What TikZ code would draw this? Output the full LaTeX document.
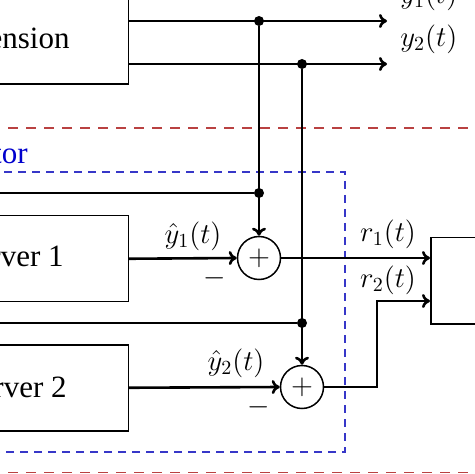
\documentclass[tikz,border=0pt]{standalone}
\usepackage{amsmath}
\usepackage{fontspec}
\setmainfont{Liberation Serif}
\usepackage{tikz}
\usetikzlibrary{positioning,shapes,arrows.meta}
\definecolor{frameRed}{RGB}{185,65,65}
\definecolor{frameBlue}{RGB}{55,55,200}
\definecolor{textBlue}{RGB}{0,0,205}

\tikzset{
  block/.style={draw, line width=0.75pt, inner sep=0pt, minimum width=110pt, minimum height=43pt},
  sumnode/.style={draw, circle, line width=0.75pt, minimum size=21.5pt, inner sep=0pt, font=\fontsize{14}{16}\selectfont},
  sig/.style={line width=1.3pt, -{To[length=4pt,width=7pt]}},
  wire/.style={line width=1.3pt},
  junc/.style={circle, fill, inner sep=0pt, minimum size=5pt},
  lbl/.style={inner sep=0pt, font=\fontsize{14.5}{17}\selectfont},
  txt/.style={inner sep=0pt, font=\fontsize{15.5}{18}\selectfont},
  frame/.style={line width=0.7pt},
}

\begin{document}
\begin{tikzpicture}[x=0.5pt,y=-0.5pt]
    \useasboundingbox (0,0) rectangle (474,474);
    % frames
    \draw[frame, frameRed, dash pattern=on 5pt off 4pt] (-10,128) -- (484,128);
    \draw[frame, frameRed, dash pattern=on 5pt off 4pt] (-10,472.5) -- (484,472.5);
    \draw[frame, frameBlue, dash pattern=on 4pt off 3pt] (-10,172) -- (345,172) -- (345,452) -- (-10,452);
    \node[txt, textBlue, anchor=base east] (gentxt) at (28,164) {tor};
    % blocks
    \node[block, anchor=south east] (ext) at (129,85) {};
    \node[txt, anchor=base east] (exttxt) at (70,49) {ension};
    \node[block, anchor=north east] (obs1) at (129,215) {};
    \node[txt, anchor=base east] (obs1txt) at (64,267) {rver 1};
    \node[block, anchor=north east] (obs2) at (129,344) {};
    \node[txt, anchor=base east] (obs2txt) at (67,397) {rver 2};
    \node[block, anchor=north west] (det) at (430,237) {};
    \node[sumnode] (sum1) at (259,258) {$+$};
    \node[sumnode] (sum2) at (302,387) {$+$};
    % junctions
    \node[junc] (j1) at (259,21) {};
    \node[junc] (j2) at (302,64) {};
    \node[junc] (j3) at (259,193) {};
    \node[junc] (j4) at (302,323) {};
    \coordinate (y1out) at (387,21);
    \coordinate (y2out) at (387,64);
    \coordinate (in1) at (-10,193);
    \coordinate (in2) at (-10,323);
    \coordinate (r2bend) at (377,301);
    \coordinate (r2in) at (430,301);
    % outputs
    \draw[sig] (ext.east |- y1out) -- (y1out);
    \draw[sig] (ext.east |- y2out) -- (y2out);
    \node[lbl, anchor=west] (y1lab) at (400,-4) {$y_1(t)$};
    \node[lbl, anchor=west] (y2lab) at (400,39) {$y_2(t)$};
    % feed to the sums
    \draw[sig] (j1) -- (sum1.north);
    \draw[sig] (j2) -- (sum2.north);
    \draw[wire] (in1) -- (j3);
    \draw[wire] (in2) -- (j4);
    \draw[sig] (obs1.east) -- (sum1.west);
    \draw[sig] (obs2.east) -- (sum2.west);
    \node[lbl] (yh1) at (193,236) {$\hat{y}_1(t)$};
    \node[lbl] (yh2) at (236,363) {$\hat{y}_2(t)$};
    \node[lbl] (m1) at (215,278) {$-$};
    \node[lbl] (m2) at (259,407) {$-$};
    % residuals
    \draw[sig] (sum1.east) -- (det.west |- sum1);
    \draw[sig] (sum2.east) -| (r2bend) -- (r2in);
    \node[lbl] (r1lab) at (388,234) {$r_1(t)$};
    \node[lbl] (r2lab) at (388,280) {$r_2(t)$};
\end{tikzpicture}
\end{document}
